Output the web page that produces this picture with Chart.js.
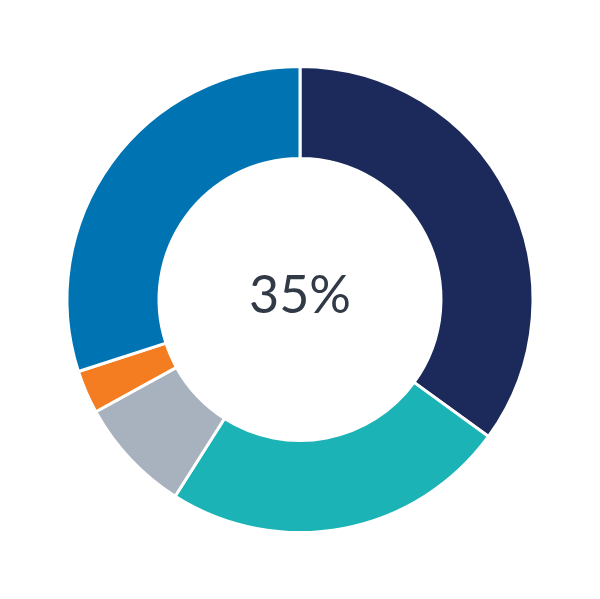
<!DOCTYPE html>
<html>
<head>
<meta charset="utf-8">
<script src="https://cdn.jsdelivr.net/npm/chart.js@4"></script>
<style>
  html, body { margin: 0; padding: 0; background: #ffffff; }
  #wrap { width: 600px; height: 599px; }
</style>
</head>
<body>
<div id="wrap"><canvas id="chart"></canvas></div>
<script>
const labels = ['Navy', 'Teal', 'Gray', 'Orange', 'Blue'];
const shares = [35, 24, 8, 3, 30];
const colors = ['#1b2a5b', '#1bb3b6', '#a8b2bf', '#f37d20', '#0074b3'];
const centerLabel = '35%';

const centerText = {
    id: 'centerText',
    afterDraw(chart) {
        const ctx = chart.ctx;
        const meta = chart.getDatasetMeta(0).data[0];
        ctx.save();
        ctx.font = '400 52px Lato, "Open Sans", sans-serif';
        ctx.fillStyle = '#323a47';
        ctx.textAlign = 'center';
        ctx.textBaseline = 'alphabetic';
        ctx.fillText(centerLabel, meta.x, 313);
        ctx.restore();
    }
};

new Chart(document.getElementById('chart'), {
    type: 'doughnut',
    data: {
        labels: labels,
        datasets: [{
            data: shares,
            backgroundColor: colors,
            borderColor: '#ffffff',
            borderWidth: 3
        }]
    },
    options: {
        responsive: true,
        maintainAspectRatio: false,
        animation: false,
        radius: 233,
        cutout: '60.5%',
        plugins: {
            legend: { display: false },
            tooltip: { enabled: false }
        }
    },
    plugins: [centerText]
});
</script>
</body>
</html>
